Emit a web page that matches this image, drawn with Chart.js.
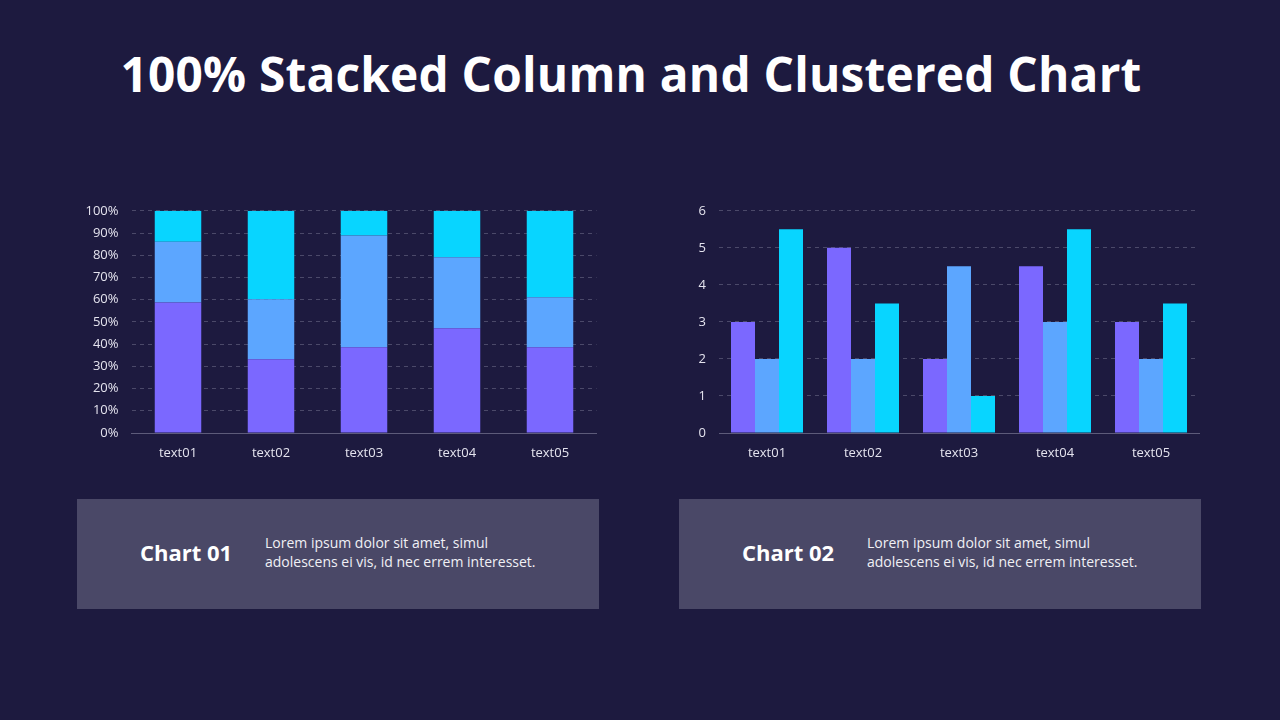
<!DOCTYPE html>
<html>
<head>
<meta charset="utf-8">
<script src="https://cdn.jsdelivr.net/npm/chart.js@4"></script>
<style>
    html, body {
        margin: 0;
        padding: 0;
        width: 1280px;
        height: 720px;
        background: #1d1a3f;
        overflow: hidden;
        font-family: "Open Sans", sans-serif;
    }
    h1 {
        position: absolute;
        left: 0;
        width: 1262px;
        top: 41px;
        margin: 0;
        text-align: center;
        color: #ffffff;
        font-size: 47.8px;
        font-weight: 700;
        letter-spacing: 0.2px;
    }
    .wrap {
        position: absolute;
        width: 540px;
        height: 275px;
        top: 190px;
    }
    .box {
        position: absolute;
        top: 499px;
        width: 522px;
        height: 110px;
        background: #4a4867;
        color: #ffffff;
    }
    .box .name {
        position: absolute;
        left: 63px;
        top: 38px;
        font-size: 22px;
        font-weight: 700;
    }
    .box .desc {
        position: absolute;
        left: 188px;
        top: 34px;
        font-size: 14px;
        line-height: 19px;
        color: #f0f0f5;
    }
</style>
</head>
<body>
<h1>100% Stacked Column and Clustered Chart</h1>

<div class="wrap" style="left:70px;"><canvas id="stackedChart"></canvas></div>
<div class="wrap" style="left:680px; width:530px;"><canvas id="clusterChart"></canvas></div>

<div class="box" style="left:77px;">
    <div class="name">Chart 01</div>
    <div class="desc">Lorem ipsum dolor sit amet, simul<br>adolescens ei vis, id nec errem interesset.</div>
</div>
<div class="box" style="left:679px;">
    <div class="name">Chart 02</div>
    <div class="desc">Lorem ipsum dolor sit amet, simul<br>adolescens ei vis, id nec errem interesset.</div>
</div>

<script>
const categories = ["text01", "text02", "text03", "text04", "text05"];

// chart 01, share of each column in percent
const stackA = [58.7, 33.2, 38.6, 47.1, 38.6];
const stackB = [27.4, 27.0, 50.3, 32.0, 22.5];
const stackC = [13.9, 39.8, 11.1, 20.9, 38.9];

// chart 02
const clusterA = [3, 5, 2, 4.5, 3];
const clusterB = [2, 2, 4.5, 3, 2];
const clusterC = [5.5, 3.5, 1, 5.5, 3.5];

const colorA = "#7b68ff";
const colorB = "#5ca6ff";
const colorC = "#08d5ff";

const tickColor = "#e4e3ee";
const gridColor = "#4b4969";
const axisColor = "#5d5b7a";

Chart.defaults.font.family = "'Open Sans', sans-serif";
Chart.defaults.font.size = 13;
Chart.defaults.animation = false;

function baseScales(yWidth, yOpts) {
    return {
        x: {
            grid: {
                display: false,
                drawTicks: false
            },
            border: {
                color: axisColor,
                width: 1
            },
            ticks: {
                color: tickColor,
                padding: 12
            },
            afterFit: (scale) => { scale.height = 32; }
        },
        y: Object.assign({
            beginAtZero: true,
            grid: {
                color: gridColor,
                drawTicks: false
            },
            border: {
                display: false,
                dash: [4, 4]
            },
            ticks: {
                color: tickColor,
                padding: 13
            },
            afterFit: (scale) => { scale.width = yWidth; }
        }, yOpts)
    };
}

new Chart(document.getElementById("stackedChart"), {
    type: "bar",
    data: {
        labels: categories,
        datasets: [
            { data: stackA, backgroundColor: colorA },
            { data: stackB, backgroundColor: colorB },
            { data: stackC, backgroundColor: colorC }
        ]
    },
    options: {
        responsive: true,
        maintainAspectRatio: false,
        datasets: {
            bar: {
                barPercentage: 0.5,
                categoryPercentage: 1
            }
        },
        layout: {
            padding: { top: 11, right: 13.5, left: 0, bottom: 0 }
        },
        plugins: {
            legend: { display: false },
            tooltip: { enabled: false }
        },
        scales: (() => {
            const s = baseScales(61.5, {
                stacked: true,
                min: 0,
                max: 100
            });
            s.x.stacked = true;
            s.y.ticks.stepSize = 10;
            s.y.ticks.callback = (v) => v + "%";
            return s;
        })()
    }
});

new Chart(document.getElementById("clusterChart"), {
    type: "bar",
    data: {
        labels: categories,
        datasets: [
            { data: clusterA, backgroundColor: colorA },
            { data: clusterB, backgroundColor: colorB },
            { data: clusterC, backgroundColor: colorC }
        ]
    },
    options: {
        responsive: true,
        maintainAspectRatio: false,
        datasets: {
            bar: {
                barPercentage: 1,
                categoryPercentage: 0.75
            }
        },
        layout: {
            padding: { top: 11, right: 11, left: 0, bottom: 0 }
        },
        plugins: {
            legend: { display: false },
            tooltip: { enabled: false }
        },
        scales: (() => {
            const s = baseScales(39, { min: 0, max: 6 });
            s.y.ticks.stepSize = 1;
            return s;
        })()
    }
});
</script>
</body>
</html>
